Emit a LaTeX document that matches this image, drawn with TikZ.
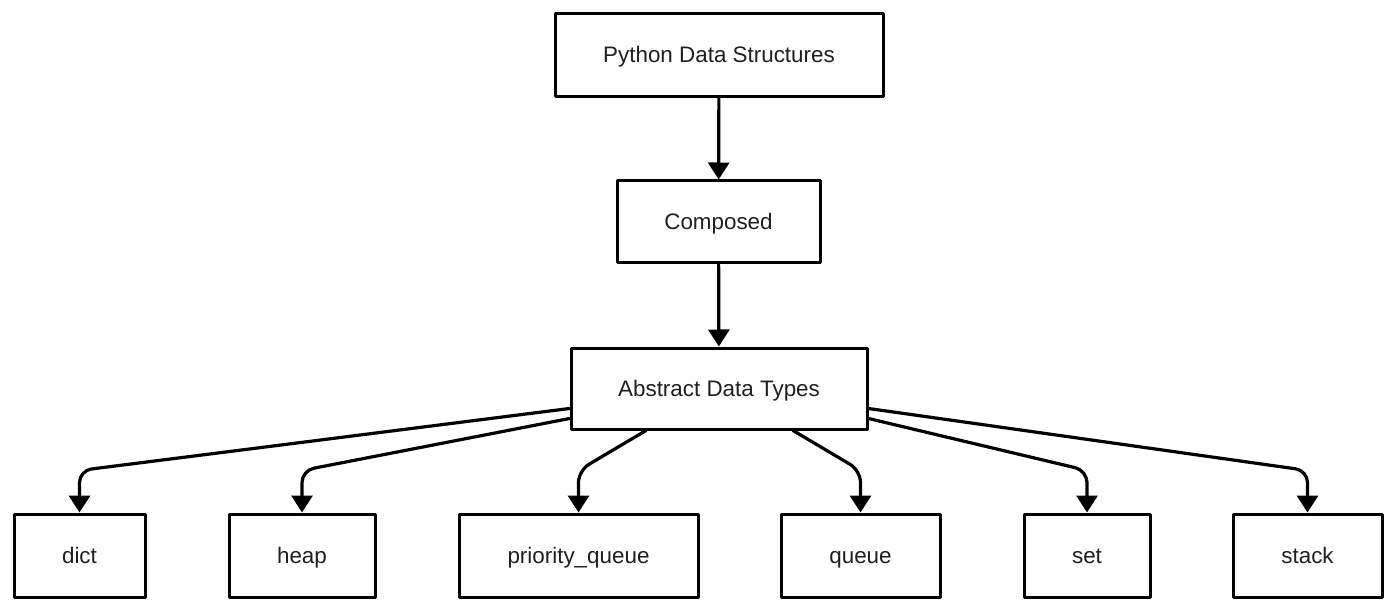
\documentclass[tikz,border=0pt]{standalone}
\usepackage{fontspec}
\setmainfont{Liberation Sans}
\usetikzlibrary{arrows.meta,calc}

\begin{document}
\begin{tikzpicture}[x=0.5pt, y=-0.5pt, line join=round, line cap=round, >={Triangle[width=10.5pt,length=8.5pt]}]
	\tikzset{box/.style={draw, line width=1.5pt, minimum height=41.5pt, inner sep=0pt, text height=9pt, text depth=1.5pt, text=black!88, font=\fontsize{11.2}{13}\selectfont},
		link/.style={->, line width=1.6pt, rounded corners=6pt}}
	\useasboundingbox (0,0) rectangle (1400,614);
	% top levels
	\node[box, minimum width=164pt] (pds) at (719,55.5) {Python Data Structures};
	\node[box, minimum width=101.5pt, minimum height=41pt] (comp) at (718.5,222) {Composed};
	\node[box, minimum width=148pt, minimum height=40.5pt] (adt) at (719,388.5) {Abstract Data Types};
	% bottom row
	\foreach \n/\x/\w/\t in {dict/79.5/65.5/dict, heap/302/73/heap, pq/578.5/119.5/priority\_queue, queue/860.5/79.5/queue, set/1087/63/set, stack/1307.5/74.5/stack}
		\node[box, minimum width=\w pt] (\n) at (\x,555.5) {\t};
	\draw[link] (pds) -- (comp);
	\draw[link] (comp) -- (adt);
	\draw[link] ($(adt.west)+(0,20)$) -- ([yshift=21pt]dict.north) -- (dict.north);
	\draw[link] ($(adt.west)+(0,30)$) -- ([yshift=21pt]heap.north) -- (heap.north);
	\draw[link] ([xshift=-36.5pt]adt.south) -- ([yshift=21pt]pq.north) -- (pq.north);
	\draw[link] ([xshift=37pt]adt.south) -- ([yshift=21pt]queue.north) -- (queue.north);
	\draw[link] ($(adt.east)+(0,30)$) -- ([yshift=21pt]set.north) -- (set.north);
	\draw[link] ($(adt.east)+(0,20)$) -- ([yshift=21pt]stack.north) -- (stack.north);
\end{tikzpicture}
\end{document}
